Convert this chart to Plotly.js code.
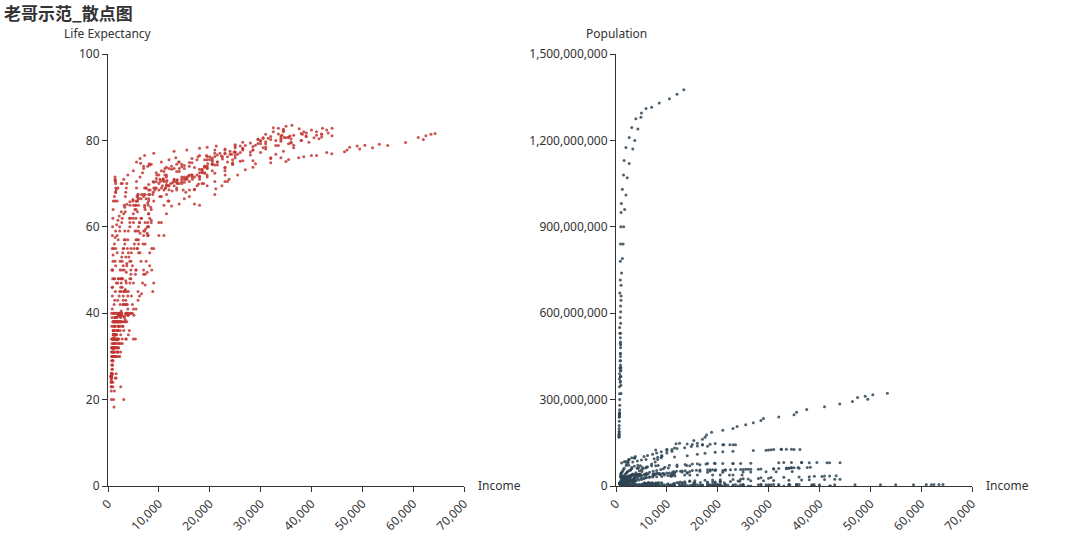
<!DOCTYPE html>
<html>
<head>
<meta charset="utf-8">
<script src="https://cdn.plot.ly/plotly-3.0.1.min.js"></script>
<style>html,body{margin:0;padding:0;background:#fff;}#chart{width:1080px;height:540px;}</style>
</head>
<body>
<div id="chart"></div>
<script>
// Each row: [income, life expectancy, population (millions)]
const australia = [[814,34,0.35],[900,34,0.36],[1100,34,0.4],[1400,34,0.5],[2000,34,0.6],[2800,34,0.8],[5000,34,1.2],[5400,34,1.6],[6200,44,2.2],[7000,50,3.1],[6300,54,3.7],[6900,56,4.0],[7900,58,4.4],[7200,59,4.9],[7400,59.5,5.0],[7300,61,5.3],[8000,63,5.9],[7200,64.5,6.4],[7900,65,6.7],[9000,66,7.0],[10200,67,7.4],[11300,69,8.2],[11500,69.5,8.8],[12300,70,9.4],[13000,70.5,10.1],[13600,70.8,10.7],[15300,71,11.3],[16600,71,12.0],[18000,71.5,12.9],[19000,72.5,13.6],[19500,73.5,14.2],[20500,74.5,14.7],[20500,75.5,15.3],[22500,76.2,16.0],[24300,76.8,16.8],[24000,77.5,17.4],[26500,78.2,17.9],[29000,78.9,18.5],[31000,79.7,19.2],[34000,80.6,19.9],[36500,81.2,20.8],[38000,81.6,21.7],[41000,82,22.3],[43000,82.4,23.1],[44056,82.8,23.8]];
const canada = [[1300,39,0.6],[1400,39,0.7],[1450,39,0.9],[1600,39,1.1],[1800,39,1.6],[2000,39.5,2.4],[2300,40,3.2],[2600,40.5,3.7],[3000,42,4.3],[3600,45,4.8],[4500,48,5.4],[5500,50,6.2],[6500,52,7.2],[6000,54,8.0],[6800,47,8.3],[6000,56,8.6],[7000,58,9.3],[7800,60,10.3],[6500,62,10.9],[8500,64,11.4],[12000,66,12.1],[12600,68.3,13.7],[13500,69,14.8],[14500,70,16.1],[14500,71,17.5],[15500,71.5,18.6],[17500,72,19.7],[19000,72.4,20.7],[20500,73,21.8],[23000,73.6,22.6],[24500,74.5,23.5],[26000,75.2,24.5],[25000,76,25.4],[28000,76.6,26.1],[30000,77.2,27.3],[28500,77.8,28.5],[30500,78.3,29.3],[33000,78.8,30.1],[36000,79.4,31.1],[38000,80,31.9],[40500,80.6,32.9],[39000,80.9,33.7],[41000,81.2,34.3],[42000,81.5,35.1],[43294,81.7,35.9]];
const china = [[985,32,321],[970,32,350],[960,32,380],[950,32,400],[940,32,410],[920,32,412],[880,30,380],[850,31,360],[860,32,365],[870,32,380],[880,32,400],[880,32,410],[890,32,420],[880,32,435],[880,31,450],[880,32,460],[900,32,480],[920,32,490],[900,32,500],[860,32,515],[780,33,530],[720,40,550],[820,46,585],[900,50,625],[1000,38,660],[750,50,670],[850,55,715],[860,58,780],[900,60,840],[950,62,900],[1000,64,950],[1060,66,981],[1250,67,1030],[1480,68,1080],[1600,68.5,1130],[1950,69,1175],[2600,70,1210],[3100,71,1245],[3900,72,1275],[5000,73,1295],[7000,74,1315],[8500,74.5,1330],[10500,75,1345],[12000,75.5,1360],[13334,76,1376]];
const cuba = [[1200,32,0.3],[1250,32,0.4],[1300,32,0.6],[1400,32,0.8],[1500,32,1.0],[1600,32,1.2],[1700,32,1.4],[1800,31,1.4],[1900,31,1.5],[2000,31,1.6],[2200,33,1.7],[2500,35,2.0],[2900,37,2.3],[3200,39,2.6],[3300,38,2.8],[3600,40,3.0],[3500,42,3.4],[3000,44,3.8],[2800,46,4.2],[3200,50,4.6],[4000,54,5.0],[5300,59,5.9],[5000,61,6.2],[5500,62,6.5],[5800,63.5,6.9],[5400,65,7.2],[5700,67,7.8],[5600,69,8.2],[5600,70.5,8.7],[6300,71.5,9.2],[6800,72.5,9.6],[7000,73.5,9.8],[7800,74,9.9],[8200,74.3,10.2],[8100,74.6,10.5],[6400,74.7,10.7],[5600,75,10.9],[6300,75.8,11.0],[7200,76.5,11.1],[9000,77,11.2],[13000,77.5,11.3],[15500,77.8,11.3],[18000,78.2,11.3],[19500,78.4,11.3],[21291,78.7,11.4]];
const finland = [[1000,36,0.9],[1050,35,1.0],[1100,38,1.2],[1150,36,1.4],[1200,38,1.5],[1300,37,1.6],[1400,38,1.7],[1180,18.3,1.75],[1600,40,2.0],[1900,43,2.4],[2300,45,2.7],[2500,46,2.8],[2700,48,3.0],[2600,48,3.1],[2000,30,3.1],[2500,48,3.1],[3000,51,3.3],[3500,53,3.4],[3800,55,3.6],[4000,45,3.7],[4500,55,3.8],[6000,65,4.0],[6500,66.5,4.1],[7300,67.5,4.3],[8000,68.5,4.4],[9500,69,4.5],[10700,69.5,4.6],[11500,69.8,4.7],[13500,70.3,4.6],[15500,71,4.7],[16000,72,4.7],[18000,73.3,4.8],[19000,74,4.9],[20500,74.6,4.9],[23500,75,5.0],[20000,75.6,5.05],[21500,76.6,5.1],[25000,77.2,5.15],[28500,77.8,5.2],[31000,78.5,5.23],[35500,79.2,5.3],[34000,79.8,5.34],[36000,80.3,5.39],[35500,80.7,5.44],[38923,81,5.5]];
const france = [[1800,33.8,29],[1900,36,30],[2000,38,31],[2200,38,33],[2400,40,34],[2600,40,36],[3000,42,37],[3100,36,38],[3500,43,38],[3900,44,39],[4300,47,40],[4500,49,40],[4800,51,41],[4000,35,40],[3600,34,39],[4500,52,39],[5700,55,40],[6000,57,41],[5600,59,41],[4500,50,40],[3200,45,39],[7500,66.5,42],[8200,67.5,43],[9200,68.5,44],[10000,70,45],[11500,70.5,46.5],[13000,71,48.5],[14500,71.5,50],[16500,72,51.5],[18500,72.8,52.5],[19500,73.6,53.4],[21000,74.3,54],[21500,75,55],[22500,75.7,56],[25000,76.5,57],[26000,77.2,58],[26500,78,58.5],[28500,78.6,59],[31000,79.2,60],[32000,80.2,61],[34000,81,62],[33500,81.5,62.8],[34500,82,63.3],[34500,82.3,63.8],[37599,82.7,64.4]];
const germany = [[1600,38,18],[1650,38,19],[1700,38,21],[1800,38,24],[1900,38,27],[2100,37,30],[2500,37,33],[2900,37,37],[3300,38,42],[3900,41,46],[4600,44,52],[5000,47,56],[5400,49,61],[4400,40,63],[4200,36,62],[4300,52,62],[5200,56,64],[6000,59,65],[6200,61,67],[7800,58,70],[4800,42,70],[7000,67.5,70],[8300,68.5,71],[10500,69,72],[12000,69.5,73],[13600,70,75],[15000,70.3,76.5],[16000,70.5,77.5],[18000,71,78.5],[19500,71.5,78.5],[21000,72.4,78.3],[23000,73,78.3],[23000,73.8,78.2],[24500,74.5,78],[26500,75.3,79],[32000,76,80.6],[33000,76.8,81.6],[34500,77.5,81.9],[36500,78.3,81.8],[36500,78.9,81.6],[39500,79.6,81.2],[38000,80,80.8],[41500,80.4,80.5],[42000,80.8,80.6],[44053,81.1,80.7]];
const iceland = [[1000,35,0.05],[1050,34,0.05],[1100,36,0.05],[1150,33,0.06],[1200,36,0.06],[1250,22,0.06],[1300,37,0.06],[1400,30,0.07],[1500,38,0.07],[1700,40,0.07],[2000,48,0.07],[2400,52,0.08],[2700,53,0.08],[3100,55,0.09],[3200,57,0.09],[3000,55,0.09],[3400,57,0.09],[4300,60,0.1],[5000,62,0.11],[5300,64,0.11],[5700,66,0.12],[9000,69,0.13],[9500,72.5,0.14],[10500,73,0.15],[11200,73.5,0.16],[11500,73.8,0.17],[12500,74,0.18],[15000,74.2,0.19],[13500,74.5,0.2],[16500,74.8,0.21],[19500,75.5,0.22],[21000,76.3,0.22],[24000,76.8,0.23],[23000,77,0.24],[25000,77.4,0.24],[26500,77.8,0.25],[25000,78.3,0.26],[26000,78.7,0.27],[30000,79.2,0.27],[33000,80,0.28],[35500,80.8,0.29],[42000,81.4,0.31],[39000,81.7,0.32],[38500,82,0.32],[40000,82.4,0.32],[42182,82.8,0.33]];
const india = [[600,25.4,169],[600,25.4,172],[600,25.4,176],[610,25.4,180],[620,25.4,185],[620,25.4,190],[620,25,200],[630,24,210],[640,23,225],[650,24.5,240],[650,22,240],[680,23,245],[700,25,250],[700,25,255],[680,20,250],[680,24,252],[720,26,265],[740,28,280],[720,29,300],[700,30,320],[680,31,345],[660,32,372],[700,34,390],[750,37,410],[800,39,435],[830,41,460],[850,44,495],[880,46,530],[920,48,565],[920,50,605],[980,52,645],[1000,53.5,697],[1100,55,740],[1250,56,790],[1400,57.5,840],[1500,59,900],[1700,60.5,960],[1950,61.5,1010],[2200,62.5,1070],[2600,63.5,1120],[3300,64.5,1170],[3700,65.2,1200],[4300,65.8,1240],[4900,66.3,1280],[5903,66.8,1311]];
const japan = [[1100,32,28],[1100,32,28.5],[1150,33,29],[1150,32,30],[1200,33,31],[1250,34,32],[1300,34,33],[1400,34,34],[1600,35,36],[1800,36,40],[2000,37,44],[2100,37,47],[2300,38,50],[2500,39,53],[2800,33,55],[2900,38,56],[3100,42,60],[3100,45,64],[3600,47,69],[4300,48,72],[2500,31,72],[3300,59,83],[4200,62,87],[5000,65,90],[5900,67.5,92],[7500,69,95],[8900,70.5,98],[11500,71.5,101],[14000,72.8,105],[16000,74,110],[17500,75.5,114],[19500,76.3,117],[21000,77,119],[23000,78,121],[27000,78.8,123],[29500,79.3,124.5],[30000,79.8,125.4],[30500,80.5,126.2],[31000,81.4,126.9],[32500,82,127.3],[34500,82.6,127.5],[32500,82.9,127.4],[33500,82.8,127.3],[35000,83.3,127.1],[36162,83.5,126.6]];
const northKorea = [[700,26,8],[700,26,8.2],[710,26,8.4],[710,26,8.6],[720,26,8.8],[720,26,9],[730,26,9.2],[740,26,9.3],[750,26,9.5],[760,26,9.7],[780,26,10],[790,27,10.2],[820,28,10.5],[900,29,10.9],[950,23,11.1],[980,29,11.3],[1050,31,11.8],[1150,33,12.3],[1300,35,13],[1450,37,14],[1100,38,15],[900,30,10],[950,38,9.5],[1200,48,10],[1500,51,10.8],[1800,54,11.5],[2000,57,12.5],[2300,59,13.4],[2700,61,14.5],[3100,63,15.6],[3200,65,16.5],[3400,67,17.4],[3500,68,18.4],[3600,69,19.2],[3700,70,20],[2800,70,21],[1800,66,21.8],[1400,66,22.5],[1500,68,23.2],[1550,69,23.7],[1500,70,24.1],[1450,70.5,24.4],[1420,70.7,24.7],[1400,71,25],[1390,71.5,25.2]];
const southKorea = [[700,25.8,9],[700,25.8,9.2],[710,25.8,9.4],[720,25.8,9.6],[730,25.8,9.8],[740,25.8,10],[750,25.8,10.1],[760,25.8,10.2],[770,25.8,10.3],[790,26,10.4],[800,26,10.5],[850,27,10.8],[900,28,11],[950,29,11.8],[950,24,12],[1000,30,12.5],[1100,32,13.5],[1200,34,14.5],[1300,36,15.5],[1450,38,17],[1100,40,18],[1000,32,20],[1200,40,21],[1300,48,22.5],[1400,52,24.5],[1500,55,26.5],[1800,58,28.5],[2300,60,30.5],[2800,62,32.5],[3400,63.5,34.5],[4300,65,36.5],[4900,66,38.1],[5900,67.5,39.9],[7500,69,41.2],[9500,70.5,42.5],[11500,72,43.8],[14000,73.5,45.1],[14000,75,46.3],[18000,76.5,47.4],[21000,77.8,48],[25000,79,48.6],[26500,79.6,49],[29500,80.2,49.4],[31500,80.5,49.9],[34644,80.7,50.3]];
const newZealand = [[1000,34,0.1],[1000,34,0.1],[1000,34,0.1],[1100,34,0.1],[1300,34,0.11],[1800,34,0.15],[3500,34,0.2],[4800,40,0.3],[5500,50,0.5],[5800,55,0.67],[7000,59,0.8],[7800,60,0.9],[8500,61,1.0],[8200,62,1.1],[8600,55,1.15],[8000,63,1.2],[8400,64.5,1.35],[7800,65.5,1.45],[8000,66.5,1.55],[10500,67,1.63],[11500,67.5,1.7],[13000,69.5,1.9],[14000,70,2.0],[14500,70.5,2.15],[15000,71,2.3],[15500,71.2,2.45],[17000,71.5,2.6],[16500,71.5,2.75],[18000,71.7,2.85],[19500,72,3.05],[18500,72.5,3.12],[18500,73.3,3.15],[19500,74,3.2],[20500,74.5,3.28],[20500,75.2,3.35],[20000,76.2,3.45],[22000,77,3.65],[23000,77.8,3.8],[25000,78.7,3.88],[28000,79.4,4.05],[30000,80,4.2],[29500,80.3,4.3],[30500,80.6,4.39],[32000,80.9,4.46],[34186,81.2,4.53]];
const norway = [[1100,37,0.87],[1100,35,0.9],[1150,40,1.0],[1200,42,1.1],[1300,43,1.25],[1450,45,1.4],[1650,47,1.6],[1900,47,1.75],[2100,48,1.9],[2400,50,2.0],[2800,52,2.2],[2900,54,2.3],[3300,56,2.4],[3900,57,2.5],[3700,51,2.6],[4000,59,2.65],[4500,62,2.75],[5500,64,2.8],[5800,66,2.9],[5500,66,3.0],[7000,67,3.1],[10000,72,3.27],[11000,72.8,3.36],[12500,73.3,3.45],[13000,73.5,3.55],[15000,73.5,3.64],[17000,73.7,3.72],[19000,73.8,3.8],[21500,74.3,3.9],[24500,74.8,3.98],[28500,75.3,4.04],[32000,75.8,4.08],[34000,76,4.13],[38500,76.2,4.17],[40000,76.5,4.23],[43000,77.2,4.29],[47000,77.8,4.36],[52000,78.3,4.42],[55000,78.8,4.51],[58500,79.5,4.59],[62000,80.2,4.71],[61000,80.7,4.83],[62500,81.1,4.95],[63500,81.4,5.08],[64304,81.6,5.21]];
const poland = [[1000,30,9],[1050,30,9.5],[1100,30,10.5],[1150,30,11.5],[1200,31,12.5],[1300,31,13.5],[1400,32,15],[1500,33,17],[1700,34,19],[1900,36,22],[2200,40,25],[2400,42,26.5],[2600,45,28],[2200,38,27],[2000,36,26],[2200,44,26.5],[2600,47,29],[2900,48,31.5],[2800,50,33.5],[2500,38,33],[2700,40,24],[4300,61,25],[5000,63,26.5],[5500,65,28],[6000,66.5,29.5],[6600,67.5,30.5],[7200,69,31.5],[8000,69.8,32.3],[9000,70.3,32.8],[10800,70.8,33.6],[11600,70.7,34.6],[11000,70.5,35.6],[10200,71,36.6],[10800,71,37.5],[10900,71.1,38],[9500,71.2,38.3],[11200,72,38.4],[13500,72.8,38.4],[14500,73.9,38.3],[16000,74.9,38.2],[19000,75.5,38.1],[20500,75.9,38.15],[22300,76.4,38.2],[23000,76.9,38.2],[24787,77.3,38.6]];
const russia = [[900,30,31],[920,30,33],[940,30,36],[960,30,40],[990,30,43],[1050,30,45],[1150,30,48],[1300,30,52],[1450,30,56],[1600,30,62],[2000,32,71],[2100,32,76],[2400,33,82],[2300,30,85],[1600,25,84],[1100,20,80],[1900,38,85],[2600,38,92],[2500,23,92],[3600,42,97],[3800,42,102],[3100,20,98],[3700,38,97],[5500,57,102],[6200,61,106],[7200,65,110],[8000,67.5,115],[8900,68,119],[10000,68.5,123],[11000,68.5,127],[12000,68.6,130],[13500,68.5,133],[14800,68.5,137],[16000,68.5,139],[17000,68.6,142],[18500,70,145],[19500,69.5,147.5],[16000,67,148.5],[12500,64.8,148.2],[11800,66,147],[14000,65.3,146],[17000,65.3,144.5],[21000,67.5,143.3],[21200,68.8,143],[22400,69.5,143],[23500,70.5,143.3],[23038,72,143.5]];
const turkey = [[1100,35,9],[1100,35,9.3],[1150,35,9.6],[1150,35,9.9],[1200,35,10.3],[1250,35,10.7],[1300,35,11.1],[1400,35,11.5],[1450,35,12],[1550,35,12.7],[1700,35,13.5],[1750,34,14],[1850,33,14.5],[1600,26,14],[1400,25,13.5],[1400,30,13],[1800,32,13.5],[2100,34,14.5],[2400,36,16],[2500,38,17.5],[2100,40,19],[3000,43,21],[3400,45.5,23],[3500,47.5,25],[3600,49.5,27],[3700,51.5,29],[4100,53,31.5],[4600,54,33.5],[5100,55,36],[5700,57,38.5],[6300,58.5,41.5],[6000,60,44.5],[6600,62,48],[7300,64,51],[8000,66,54],[8800,67.5,57],[9300,69,59.5],[10300,70.5,62.5],[9600,72,65],[12000,73.5,67.5],[14500,74.5,70],[13900,75,71.5],[16500,75.8,73.5],[17700,76.2,76],[19360,76.5,78.7]];
const unitedKingdom = [[3400,38.5,12.3],[3500,40,13.5],[3600,40,15],[3800,40,17],[4000,40,19],[4500,40,21],[5000,41,23],[5500,41,25.5],[5900,43,28.5],[6600,44.5,31.5],[7300,46.5,35],[7300,49,37],[7500,52,39],[8600,50,40],[8800,45,40.5],[7300,56,41],[7700,58.5,42],[8000,60,43],[8500,61.5,44],[10500,61,45],[11000,65,46],[11300,69,50.6],[11900,69.5,50.8],[12700,70.2,51.3],[13000,70.8,52],[13600,70.9,53],[15000,71.5,54],[15800,71.7,54.8],[16500,72,55.5],[18000,72.5,56],[18500,73.2,56],[19000,74,56.3],[19600,74.6,56.3],[21500,75,56.7],[24500,75.5,57.2],[23500,76.2,57.6],[25500,76.8,58],[28000,77.3,58.5],[31000,78,59.1],[33500,78.8,59.8],[36000,79.6,61.3],[34000,80.2,62.2],[35000,80.6,63.1],[35800,81,63.9],[38225,81.4,64.7]];
const unitedStates = [[2100,39.4,6.8],[2300,39.4,7.3],[2300,39.4,9.9],[2600,39.4,13],[2800,39.4,17],[3300,39.4,23],[3900,39.5,31],[4000,39.5,40],[5100,39.5,50],[5900,45,63],[7000,49,76],[7700,49.5,83],[8200,51,92],[8200,54,100],[9000,47,103],[9000,55,106],[10000,58,115],[11000,58,121],[7800,61,125],[10000,61,128],[11500,63,132],[18000,65,138],[15000,66.5,144],[15300,68,158],[17000,68.7,162],[17500,69.5,169],[17800,69.9,177],[18800,70,187],[21000,70.5,194],[23000,70.5,200],[23800,71,207],[25500,72,213],[27000,73.2,220],[28500,73.8,227],[29000,74.6,234],[32000,74.8,240],[35000,75.1,247],[35500,75.6,256],[37500,76,266],[41000,76.5,275],[44000,76.9,285],[46500,77.4,293],[49500,78,301],[47500,78.4,307],[49000,78.7,312],[50500,78.9,317],[53354,79.1,322]];

const countries = [australia, canada, china, cuba, finland, france, germany, iceland, india, japan, northKorea, southKorea, newZealand, norway, poland, russia, turkey, unitedKingdom, unitedStates];

const xTickVals = [0,10000,20000,30000,40000,50000,60000,70000];
const xTickText = ['0','10,000','20,000','30,000','40,000','50,000','60,000','70,000'];
const lifeTickVals = [0,20,40,60,80,100];
const popTickVals = [0,300,600,900,1200,1500];
const popTickText = ['0','300,000,000','600,000,000','900,000,000','1,200,000,000','1,500,000,000'];

const rows = [].concat(...countries);
const income = rows.map(r => r[0]);
const life = rows.map(r => r[1]);
const pop = rows.map(r => r[2]);

const FONT = '"Noto Sans", "Noto Sans CJK SC", sans-serif';
const marker = (c) => ({size: 3, color: c, opacity: 0.85, line: {width: 0}});

const traces = [
  {type: 'scatter', mode: 'markers', x: income, y: life, xaxis: 'x', yaxis: 'y', marker: marker('#c23531'), hoverinfo: 'skip'},
  {type: 'scatter', mode: 'markers', x: income, y: pop, xaxis: 'x2', yaxis: 'y2', marker: marker('#2f4554'), hoverinfo: 'skip'}
];

const axBase = {
  showgrid: false, zeroline: false, showline: true, linecolor: '#333', linewidth: 1,
  ticks: 'outside', ticklen: 5, tickcolor: '#333', tickwidth: 1,
  tickfont: {family: FONT, size: 12, color: '#333'}, fixedrange: true
};

const layout = {
  width: 1080, height: 540,
  margin: {l: 0, r: 0, t: 0, b: 0},
  paper_bgcolor: '#fff', plot_bgcolor: 'rgba(0,0,0,0)',
  showlegend: false,
  xaxis: Object.assign({}, axBase, {domain: [108/1080, 464/1080], range: [0, 70000], tickvals: xTickVals, ticktext: xTickText, tickangle: -45, anchor: 'y'}),
  yaxis: Object.assign({}, axBase, {domain: [0.1, 0.9], range: [0, 100], tickvals: lifeTickVals, anchor: 'x'}),
  xaxis2: Object.assign({}, axBase, {domain: [616/1080, 972/1080], range: [0, 70000], tickvals: xTickVals, ticktext: xTickText, tickangle: -45, anchor: 'y2'}),
  yaxis2: Object.assign({}, axBase, {domain: [0.1, 0.9], range: [0, 1500], tickvals: popTickVals, ticktext: popTickText, anchor: 'x2'}),
  annotations: [
    {text: '<b>老哥示范_散点图</b>', xref: 'paper', yref: 'paper', x: 2/1080, y: 1 - 12/540, xanchor: 'left', yanchor: 'middle', showarrow: false, font: {family: '"Noto Sans CJK SC", sans-serif', size: 17, color: '#333'}},
    {text: 'Life Expectancy', xref: 'paper', yref: 'paper', x: 108/1080, y: 1 - 33/540, xanchor: 'center', yanchor: 'middle', showarrow: false, font: {family: FONT, size: 12, color: '#333'}},
    {text: 'Population', xref: 'paper', yref: 'paper', x: 616/1080, y: 1 - 33/540, xanchor: 'center', yanchor: 'middle', showarrow: false, font: {family: FONT, size: 12, color: '#333'}},
    {text: 'Income', xref: 'paper', yref: 'paper', x: 476/1080, y: 1 - 485/540, xanchor: 'left', yanchor: 'middle', showarrow: false, font: {family: FONT, size: 12, color: '#333'}},
    {text: 'Income', xref: 'paper', yref: 'paper', x: 984/1080, y: 1 - 485/540, xanchor: 'left', yanchor: 'middle', showarrow: false, font: {family: FONT, size: 12, color: '#333'}}
  ]
};

Plotly.newPlot('chart', traces, layout, {displayModeBar: false, staticPlot: true});
</script>
</body>
</html>
